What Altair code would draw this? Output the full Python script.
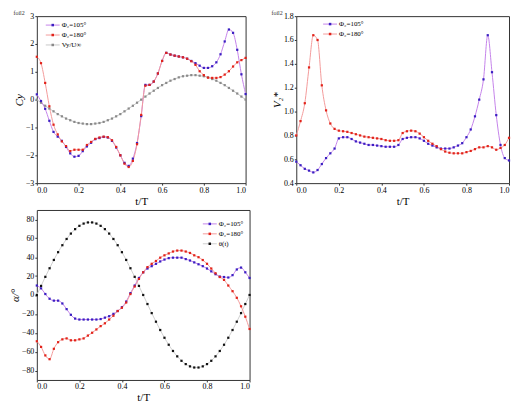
import altair as alt
import pandas as pd

t = [0.00, 0.02, 0.04, 0.06, 0.08, 0.10, 0.12, 0.14, 0.16, 0.18,
     0.20, 0.22, 0.24, 0.26, 0.28, 0.30, 0.32, 0.34, 0.36, 0.38,
     0.40, 0.42, 0.44, 0.46, 0.48, 0.50, 0.52, 0.54, 0.56, 0.58,
     0.60, 0.62, 0.64, 0.66, 0.68, 0.70, 0.72, 0.74, 0.76, 0.78,
     0.80, 0.82, 0.84, 0.86, 0.88, 0.90, 0.92, 0.94, 0.96, 0.98, 1.00]

# Panel 1: Cy
cy_105 = [0.19, -0.05, -0.33, -0.76, -1.16, -1.33, -1.48, -1.70, -1.93, -2.05,
          -2.02, -1.85, -1.68, -1.55, -1.42, -1.38, -1.34, -1.36, -1.48, -1.72,
          -2.00, -2.27, -2.38, -2.12, -1.56, -0.59, 0.53, 0.53, 0.65, 0.94,
          1.39, 1.68, 1.62, 1.58, 1.55, 1.52, 1.47, 1.39, 1.31, 1.22,
          1.14, 1.14, 1.20, 1.34, 1.63, 2.09, 2.52, 2.40, 1.79, 0.91, 0.20]
cy_180 = [1.54, 1.31, 0.60, -0.24, -0.90, -1.25, -1.50, -1.67, -1.85, -1.80,
          -1.80, -1.80, -1.63, -1.52, -1.41, -1.36, -1.33, -1.35, -1.46, -1.70,
          -2.00, -2.30, -2.42, -2.20, -1.60, -0.55, 0.50, 0.53, 0.65, 0.94,
          1.39, 1.68, 1.62, 1.58, 1.55, 1.52, 1.47, 1.38, 1.25, 1.02,
          0.88, 0.79, 0.78, 0.78, 0.81, 0.90, 1.02, 1.19, 1.34, 1.42, 1.50]
vy_uinf = [0.00, -0.11, -0.22, -0.32, -0.42, -0.52, -0.60, -0.68, -0.74, -0.80,
           -0.84, -0.86, -0.88, -0.88, -0.86, -0.84, -0.80, -0.74, -0.68, -0.60,
           -0.52, -0.42, -0.32, -0.22, -0.11, 0.00, 0.11, 0.22, 0.32, 0.42,
           0.52, 0.60, 0.68, 0.74, 0.80, 0.84, 0.86, 0.88, 0.88, 0.86,
           0.84, 0.80, 0.74, 0.68, 0.60, 0.52, 0.42, 0.32, 0.22, 0.11, 0.00]

# Panel 2: V*
v_105 = [0.58, 0.55, 0.52, 0.505, 0.49, 0.51, 0.56, 0.61, 0.65, 0.69,
         0.775, 0.785, 0.785, 0.77, 0.75, 0.74, 0.73, 0.72, 0.72, 0.715,
         0.71, 0.705, 0.705, 0.705, 0.72, 0.77, 0.78, 0.785, 0.785, 0.775,
         0.755, 0.73, 0.715, 0.70, 0.69, 0.69, 0.69, 0.70, 0.715, 0.735,
         0.785, 0.85, 0.96, 1.10, 1.27, 1.64, 1.33, 0.97, 0.72, 0.61, 0.59]
v_180 = [0.80, 0.92, 1.07, 1.37, 1.64, 1.60, 1.22, 1.01, 0.90, 0.855,
         0.84, 0.835, 0.83, 0.82, 0.81, 0.80, 0.79, 0.785, 0.78, 0.775,
         0.77, 0.76, 0.755, 0.755, 0.76, 0.82, 0.835, 0.84, 0.835, 0.815,
         0.785, 0.755, 0.73, 0.71, 0.685, 0.665, 0.655, 0.65, 0.65, 0.65,
         0.66, 0.67, 0.685, 0.70, 0.70, 0.71, 0.70, 0.68, 0.695, 0.72, 0.78]

# Panel 3: alpha
a_105 = [10, 7, 1, -4, -6, -6, -9, -15, -21, -25,
         -26, -26, -26, -26, -26, -25.5, -24, -22.5, -20, -17,
         -13, -7, 2, 10, 18, 24, 28, 30.5, 33, 35.5,
         37.5, 39, 39.5, 39.5, 39.5, 38, 36.5, 34.5, 32.5, 30.5,
         28, 25, 22, 19.5, 19, 18.5, 21, 27, 29, 24, 18]
a_180 = [-49, -55, -64, -68, -57, -50, -47, -46, -48, -48,
         -47, -46, -43, -40, -36.5, -33, -30, -26, -22, -17,
         -13.5, -8, 1, 9, 17, 24, 29.5, 33, 36, 39.5,
         42, 44, 46, 47, 47, 46, 44.5, 42, 40, 37,
         33, 28, 23, 19, 16, 10, 4, -3, -12, -23, -36]
theta = [0, 9.6, 19.2, 28.3, 37.1, 45.3, 52.7, 59.3, 65.0, 69.7,
         73.2, 75.6, 76.8, 76.8, 75.6, 73.2, 69.7, 65.0, 59.3, 52.7,
         45.3, 37.1, 28.3, 19.2, 9.6, 0, -9.6, -19.2, -28.3, -37.1,
         -45.3, -52.7, -59.3, -65.0, -69.7, -73.2, -75.6, -76.8, -76.8, -75.6,
         -73.2, -69.7, -65.0, -59.3, -52.7, -45.3, -37.1, -28.3, -19.2, -9.6, 0]

x_ticks = [0.0, 0.2, 0.4, 0.6, 0.8, 1.0]
cy_ticks = [-3, -2, -1, 0, 1, 2, 3]
v_ticks = [0.4, 0.6, 0.8, 1.0, 1.2, 1.4, 1.6, 1.8]
a_ticks = [-80, -60, -40, -20, 0, 20, 40, 60, 80]

S105 = "Φ₂=105°"
S180 = "Φ₂=180°"
SVY = "Vy/U∞"
STH = "θ(t)"

MARK = {S105: "#3a1fc2", S180: "#e2231a", SVY: "#8a8a8a", STH: "#111111"}
LINE = {S105: "#c583ea", S180: "#f39a9a", SVY: "#c9c9c9", STH: "#cfcfcf"}

FONT = "Liberation Serif"
SYM_LINE = "M-2,0L2,0"
SYM_DOT = "M-0.36,-0.36L0.36,-0.36L0.36,0.36L-0.36,0.36Z"


def long_df(series):
    rows = []
    for name, vals in series:
        for ti, vi in zip(t, vals):
            rows.append({"t": ti, "v": vi, "s": name})
    return pd.DataFrame(rows)


def legend(sym, lx, ly, line=False):
    kw = dict(title=None, orient="none", legendX=lx, legendY=ly,
              symbolType=sym, symbolSize=49, symbolStrokeWidth=1,
              labelFont=FONT, labelFontSize=7, labelOffset=5,
              rowPadding=3, padding=0)
    if line:
        kw["labelOpacity"] = 0
    return alt.Legend(**kw)


def panel(series, order, ydom, yvals, yfmt, ytitle, w, h, lx, ly, title=None):
    df = long_df(series)
    base = alt.Chart(df)
    x = alt.X("t:Q", scale=alt.Scale(domain=[0, 1], nice=False),
              axis=alt.Axis(values=x_ticks, format=".1f", title="t/T"))
    y = alt.Y("v:Q", scale=alt.Scale(domain=ydom, nice=False, zero=False),
              axis=alt.Axis(values=yvals, format=yfmt, title=ytitle,
                            titleFontStyle="italic"))
    line = base.mark_line(strokeWidth=1, interpolate="monotone").encode(
        x=x, y=y,
        color=alt.Color("s:N", sort=order,
                        scale=alt.Scale(domain=order, range=[LINE[n] for n in order]),
                        legend=legend(SYM_LINE, lx, ly, line=True)),
        detail="s:N",
    )
    pts = base.mark_point(shape="square", filled=True, size=5, opacity=1).encode(
        x=x, y=y,
        color=alt.Color("s:N", sort=order,
                        scale=alt.Scale(domain=order, range=[MARK[n] for n in order]),
                        legend=legend(SYM_DOT, lx, ly)),
    )
    ch = alt.layer(line, pts).resolve_scale(color="independent").properties(width=w, height=h)
    if title:
        ch = ch.properties(title=alt.TitleParams(title, anchor="start", fontSize=6, font=FONT,
                                                 fontWeight="normal", offset=0, dy=4,
                                                 color="#333"))
    return ch


A = panel([(SVY, vy_uinf), (S105, cy_105), (S180, cy_180)], [S105, S180, SVY],
          [-3, 3], cy_ticks, "d", "Cy", 210, 168, 12, 5, title="foil2")
B = panel([(S105, v_105), (S180, v_180)], [S105, S180],
          [0.4, 1.8], v_ticks, ".1f", "V₂*", 214, 168, 30, 4, title="foil2")
C = panel([(STH, theta), (S105, a_105), (S180, a_180)], [S105, S180, STH],
          [-90, 90], a_ticks, "d", "α/°", 214, 171, 170, 10)

chart = alt.concat(
    A, B, C, columns=2, spacing={"row": 2, "column": 18},
).properties(padding=0).configure_axis(
    labelFont=FONT, labelFontSize=8, labelColor="black",
    titleFont=FONT, titleFontSize=11, titleFontWeight="normal", titleColor="black",
    tickSize=2, tickColor="#333", domain=False, grid=False,
    labelPadding=1, titlePadding=1,
).configure_view(stroke="#333", strokeWidth=1)

chart.save("out.html", embed_options={"renderer": "svg", "actions": False})
